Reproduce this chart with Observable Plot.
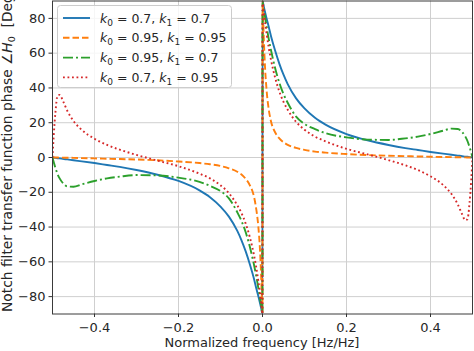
<!DOCTYPE html>
<html><head><meta charset="utf-8">
<script src="https://cdn.jsdelivr.net/npm/d3@7"></script>
<script src="https://cdn.jsdelivr.net/npm/@observablehq/plot@0.6"></script>
<style>
body{margin:0;background:#fff;}
#chart svg{display:block;overflow:hidden;}
</style></head><body><div id="chart"></div>
<script>
// Normalized frequency samples [Hz/Hz]
const freq = [-0.5,-0.497,-0.493,-0.488,-0.483,-0.475,-0.465,-0.45,-0.43,-0.4,-0.37,-0.34,-0.3,-0.25,-0.2,-0.15,-0.125,-0.1,-0.08,-0.06,-0.05,-0.04,-0.03,-0.02,-0.015,-0.01,-0.006,-0.003,-0.0001,
              0.0001,0.003,0.006,0.01,0.015,0.02,0.03,0.04,0.05,0.06,0.08,0.1,0.125,0.15,0.2,0.25,0.3,0.34,0.37,0.4,0.43,0.45,0.465,0.475,0.483,0.488,0.493,0.497,0.5];
// Phase [Deg], k0=0.7, k1=0.7
const phaseA = [0,-0.1,-0.2,-0.4,-0.5,-0.8,-1.1,-1.6,-2.2,-3.2,-4.3,-5.4,-7.2,-9.9,-13.5,-18.9,-22.8,-28.2,-34,-42.2,-47.6,-54,-61.5,-70,-75,-79.7,-83.7,-86.8,-89.9,
                89.9,86.8,83.7,79.7,75,70,61.5,54,47.6,42.2,34,28.2,22.8,18.9,13.5,9.9,7.2,5.4,4.3,3.2,2.2,1.6,1.1,0.8,0.5,0.4,0.2,0.1,0];
// Phase [Deg], k0=0.95, k1=0.95
const phaseB = [0,-0.01,-0.02,-0.04,-0.06,-0.1,-0.15,-0.2,-0.35,-0.5,-0.7,-0.9,-1.15,-1.6,-2.3,-3.2,-3.9,-4.9,-6.2,-8.2,-9.8,-12.3,-16,-22.8,-29.5,-39.5,-53,-69.5,-89,
                89,69,52,38,27.5,21,14.5,11,8.8,7.3,5.5,4.4,3.4,2.8,2.0,1.4,1.0,0.8,0.6,0.45,0.3,0.2,0.15,0.1,0.05,0.04,0.02,0.01,0];
// Phase [Deg], k0=0.95, k1=0.7
const phaseC = [0,-2.8,-6,-9.5,-12,-14.8,-16.6,-16.8,-15.4,-13.5,-12,-11,-10.1,-10.3,-11.6,-14,-16.3,-19.3,-23.5,-31.5,-36.5,-43,-51.5,-62,-68,-75,-81,-85.5,-89.9,
                89.9,85.5,81,75,68,62,51.5,43,36.5,31.5,23.5,19.3,16.3,14,11.6,10.3,10.1,11,12,13.5,15.4,16.6,16.4,14.8,12,9.5,6,2.8,0];
// Phase [Deg], k0=0.7, k1=0.95
const phaseD = [0,13,26,35.5,36,32.5,27,21,15.8,10.8,7.2,4.5,1.5,-1.8,-5,-9.3,-12,-16,-20.5,-27.5,-32,-38,-46,-56.5,-63,-71,-78,-84,-89.9,
                89.9,84,78,71,63,56.5,46,38,32,27.5,20.5,16,12,9.3,5,1.8,-1.5,-4.5,-7.2,-10.8,-15.8,-21,-27,-32.5,-36,-35.5,-26,-13,0];

const seriesK0 = ["0.7","0.95","0.95","0.7"];
const seriesK1 = ["0.7","0.95","0.7","0.95"];
const xTicks = [-0.4,-0.2,0,0.2,0.4];
const yTicks = [-80,-60,-40,-20,0,20,40,60,80];

const allPhases = [phaseA, phaseB, phaseC, phaseD];
const colors = ["#1f77b4","#ff7f0e","#2ca02c","#d62728"];
const dashes = [null,"6.5,3","10,3,2,3","1.8,2.7"];

const lineMarks = allPhases.map((vals,s) => Plot.line(freq.map((f,i)=>({f, p: vals[i]})), {
  x:"f", y:"p", stroke: colors[s], strokeWidth: 1.9, strokeDasharray: dashes[s] || undefined,
  strokeLinecap: "butt", curve: "monotone-x", clip: true
}));

const chart = Plot.plot({
  width: 474, height: 351,
  marginLeft: 52, marginRight: 2, marginTop: 0.5, marginBottom: 37.5,
  x: {domain: [-0.5, 0.5]},
  y: {domain: [-90, 90]},
  style: {fontFamily: "'DejaVu Sans', sans-serif", fontSize: "13px", color: "#262626", background: "#fff"},
  marks: [
    Plot.gridX(xTicks, {stroke: "#cfcfcf", strokeOpacity: 1, strokeWidth: 1}),
    Plot.gridY(yTicks, {stroke: "#cfcfcf", strokeOpacity: 1, strokeWidth: 1}),
    ...lineMarks,
    Plot.frame({stroke: "#3a3a3a", strokeWidth: 1}),
    Plot.axisX(xTicks, {tickFormat: d3.format(".1f"), tickSize: 3.5, tickPadding: 5.5, label: null, stroke: "#333"}),
    Plot.axisY(yTicks, {tickFormat: d3.format("d"), tickSize: 3.5, tickPadding: 3.5, label: null, stroke: "#333"})
  ]
});
document.getElementById("chart").appendChild(chart);

const svg = d3.select(chart);
// x label
svg.append("text").attr("x", 262).attr("y", 347).attr("text-anchor", "middle")
  .attr("font-family", "'DejaVu Sans', sans-serif").attr("font-size", 13).attr("fill", "#262626")
  .text("Normalized frequency [Hz/Hz]");
// y label
const yl = svg.append("text").attr("transform", "translate(12,312) rotate(-90)")
  .attr("text-anchor", "start")
  .attr("font-family", "'DejaVu Sans', sans-serif").attr("font-size", 13.8).attr("fill", "#262626")
  .style("white-space", "pre");
yl.append("tspan").text("Notch filter transfer function phase ∠");
yl.append("tspan").attr("font-style", "italic").text("H");
yl.append("tspan").attr("font-size", 9.5).attr("dy", 3).text("0");
yl.append("tspan").attr("dy", -3).text("  [Deg]");

// legend
const lg = svg.append("g");
lg.append("rect").attr("x", 57.5).attr("y", 5.5).attr("width", 174).attr("height", 82).attr("rx", 3)
  .attr("fill", "#fff").attr("fill-opacity", 0.8).attr("stroke", "#cccccc");
seriesK0.forEach((k0, i) => {
  const y = 18 + i * 19.8;
  lg.append("line").attr("x1", 63).attr("x2", 90).attr("y1", y).attr("y2", y)
    .attr("stroke", colors[i]).attr("stroke-width", 1.9).attr("stroke-dasharray", dashes[i]);
  const t = lg.append("text").attr("x", 100).attr("y", y + 4.5).attr("text-anchor", "start")
    .attr("font-family", "'DejaVu Sans', sans-serif").attr("font-size", 12.5).attr("fill", "#262626")
    .style("white-space", "pre");
  t.append("tspan").attr("font-style", "italic").text("k");
  t.append("tspan").attr("font-size", 9).attr("dy", 3).text("0");
  t.append("tspan").attr("dy", -3).text(" = " + k0 + ", ");
  t.append("tspan").attr("font-style", "italic").text("k");
  t.append("tspan").attr("font-size", 9).attr("dy", 3).text("1");
  t.append("tspan").attr("dy", -3).text(" = " + seriesK1[i]);
});
</script></body></html>
